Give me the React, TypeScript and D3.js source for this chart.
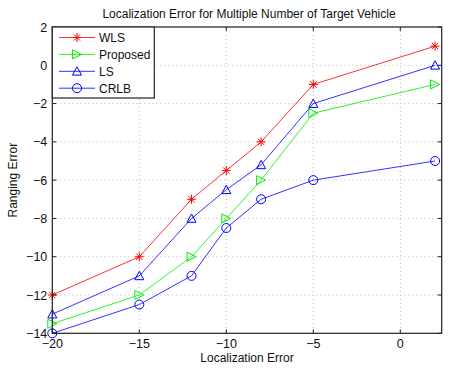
import React from "react";
import * as d3 from "d3";

const xValues = [-20, -15, -12, -10, -8, -5, 2];
const wls = [-12, -10, -7, -5.5, -4, -1, 1];
const proposed = [-13.5, -12, -10, -8, -6, -2.5, -1];
const ls = [-13, -11, -8, -6.5, -5.2, -2, 0];
const crlb = [-14, -12.5, -11, -8.5, -7, -6, -5];
const xTicks = [-20, -15, -10, -5, 0];
const yTicks = [2, 0, -2, -4, -6, -8, -10, -12, -14];
const seriesNames = ["WLS", "Proposed", "LS", "CRLB"];

const W = 474, H = 370;
const L = 52.3, R = 441.7, T = 27, B = 333.3;
const FONT = "Liberation Sans, Arial, sans-serif";

function Marker({ type, x, y, color }: { type: string; x: number; y: number; color: string }) {
  const s = 4.5;
  if (type === "star") {
    const d = `M${x - s},${y}L${x + s},${y}M${x},${y - s}L${x},${y + s}M${x - s * 0.7},${y - s * 0.7}L${x + s * 0.7},${y + s * 0.7}M${x - s * 0.7},${y + s * 0.7}L${x + s * 0.7},${y - s * 0.7}`;
    return <path d={d} stroke={color} strokeWidth={1} fill="none" />;
  }
  if (type === "right") {
    const d = `M${x - s},${y - s}L${x + s},${y}L${x - s},${y + s}Z`;
    return <path d={d} stroke={color} strokeWidth={1} fill="none" />;
  }
  if (type === "up") {
    const d = `M${x},${y - s}L${x + s},${y + s * 0.85}L${x - s},${y + s * 0.85}Z`;
    return <path d={d} stroke={color} strokeWidth={1} fill="none" />;
  }
  return <circle cx={x} cy={y} r={s} stroke={color} strokeWidth={1} fill="none" />;
}

export default function App() {
  const x = d3.scaleLinear().domain([-20, 2.38]).range([L, R]);
  const y = d3.scaleLinear().domain([-14, 2]).range([B, T]);
  const series = [
    { name: seriesNames[0], values: wls, color: "#ff0000", marker: "star" },
    { name: seriesNames[1], values: proposed, color: "#00ee00", marker: "right" },
    { name: seriesNames[2], values: ls, color: "#0000ff", marker: "up" },
    { name: seriesNames[3], values: crlb, color: "#0000ff", marker: "circle" },
  ];
  const line = d3.line<number>().x((_, i) => x(xValues[i])).y((v) => y(v));
  const fmt = (t: number) => (t < 0 ? "\u2212" + Math.abs(t) : String(t));
  return (
    <svg width={W} height={H} style={{ position: "absolute", left: 0, top: 0 }} fontFamily={FONT}>
      <rect x={0} y={0} width={W} height={H} fill="#fff" />
      {xTicks.map((t) => (
        <line key={"gx" + t} x1={x(t)} x2={x(t)} y1={T} y2={B} stroke="#bbb" strokeWidth={1} strokeDasharray="1,3" />
      ))}
      {yTicks.map((t) => (
        <line key={"gy" + t} x1={L} x2={R} y1={y(t)} y2={y(t)} stroke="#bbb" strokeWidth={1} strokeDasharray="1,3" />
      ))}
      {series.map((s) => (
        <g key={s.name}>
          <path d={line(s.values) || ""} stroke={s.color} strokeWidth={1} fill="none" opacity={0.8} />
          {s.values.map((v, i) => (
            <Marker key={i} type={s.marker} x={x(xValues[i])} y={y(v)} color={s.color} />
          ))}
        </g>
      ))}
      <rect x={L} y={T} width={R - L} height={B - T} fill="none" stroke="#222" strokeWidth={1.2} />
      {xTicks.map((t) => (
        <g key={"tx" + t}>
          <line x1={x(t)} x2={x(t)} y1={B} y2={B - 4} stroke="#222" />
          <line x1={x(t)} x2={x(t)} y1={T} y2={T + 4} stroke="#222" />
          <text x={x(t)} y={B + 15} textAnchor="middle" fontSize={12.5} fill="#111">
            {fmt(t)}
          </text>
        </g>
      ))}
      {yTicks.map((t) => (
        <g key={"ty" + t}>
          <line x1={L} x2={L + 4} y1={y(t)} y2={y(t)} stroke="#222" />
          <line x1={R} x2={R - 4} y1={y(t)} y2={y(t)} stroke="#222" />
          <text x={L - 5} y={y(t) + 4.5} textAnchor="end" fontSize={12.5} fill="#111">
            {fmt(t)}
          </text>
        </g>
      ))}
      <text x={(L + R) / 2 + 2} y={18} textAnchor="middle" fontSize={12} fill="#111">
        Localization Error for Multiple Number of Target Vehicle
      </text>
      <text x={(L + R) / 2} y={362} textAnchor="middle" fontSize={12} fill="#111">
        Localization Error
      </text>
      <text transform={`translate(17,${(T + B) / 2}) rotate(-90)`} textAnchor="middle" fontSize={12} fill="#111">
        Ranging Error
      </text>
      <rect x={L} y={T} width={102} height={71} fill="#fff" stroke="#222" strokeWidth={1.2} />
      {series.map((s, i) => {
        const ly = 37.5 + i * 16.9;
        return (
          <g key={"lg" + s.name}>
            <line x1={59} x2={95} y1={ly} y2={ly} stroke={s.color} strokeWidth={1} opacity={0.8} />
            <Marker type={s.marker} x={77} y={ly} color={s.color} />
            <text x={99} y={ly + 4.5} fontSize={12} fill="#111">{s.name}</text>
          </g>
        );
      })}
    </svg>
  );
}
